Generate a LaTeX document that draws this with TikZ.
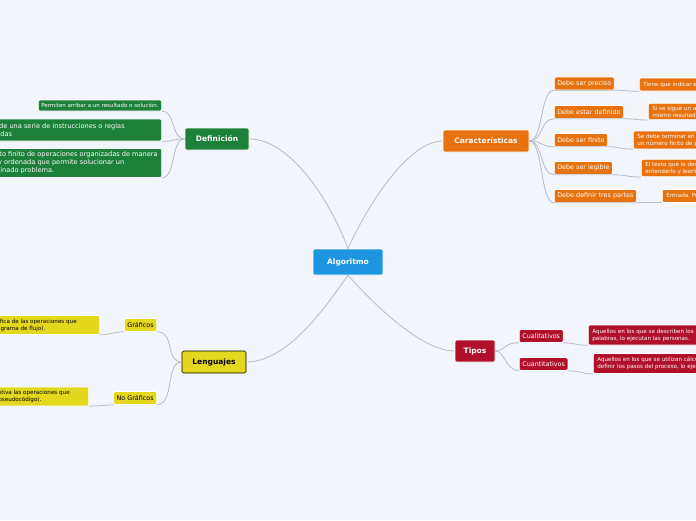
\documentclass[tikz,border=0pt]{standalone}
\usepackage{fontspec}
\setmainfont{DejaVu Sans}
\definecolor{bg}{HTML}{F2F5FC}
\definecolor{cblue}{HTML}{1E95E0}
\definecolor{cgreen}{HTML}{1C8039}
\definecolor{corange}{HTML}{E8720E}
\definecolor{cyellow}{HTML}{E4D81E}
\definecolor{cred}{HTML}{B0102A}
\definecolor{cline}{HTML}{B8BCC4}
\tikzset{
  base/.style={rounded corners=1.5pt, draw=white, line width=0.6pt, text=white, inner sep=2pt},
  root/.style={base, fill=cblue, minimum width=70, minimum height=26, font=\bfseries\fontsize{7.5}{9}\selectfont},
  mainb/.style={base, minimum height=22, font=\bfseries\fontsize{7.5}{9}\selectfont},
  lvtwo/.style={base, minimum height=13, inner xsep=3pt, font=\fontsize{6.4}{7.5}\selectfont},
  lvthree/.style={base, inner xsep=4pt, inner ysep=2.5pt, align=left, font=\fontsize{5.6}{7}\selectfont},
  conn/.style={draw=cline, line width=0.8pt},
}
\begin{document}
\begin{tikzpicture}[x=1pt,y=-1pt]
\fill[bg] (0,0) rectangle (696,520);
\useasboundingbox (0,0) rectangle (696,520);
\clip (0,0) rectangle (696,520);

\node[root] (alg) at (348,262) {Algoritmo};
\node[mainb, fill=cgreen, minimum width=64] (def) at (217,139) {Definición};
\node[mainb, fill=corange, minimum width=86] (car) at (486,141) {Características};
\node[mainb, fill=cyellow, draw=black, text=black, minimum width=64] (len) at (214,362) {Lenguajes};
\node[mainb, fill=cred, minimum width=40] (tip) at (475,351) {Tipos};

\draw[conn] (alg.north) .. controls (330,200) and (290,139) .. (def.east);
\draw[conn] (alg.north) .. controls (370,200) and (410,141) .. (car.west);
\draw[conn] (alg.south) .. controls (330,300) and (290,362) .. (len.east);
\draw[conn] (alg.south) .. controls (370,300) and (420,351) .. (tip.west);

% Definicion
\node[lvtwo, fill=cgreen, anchor=east, font=\fontsize{5.5}{6.5}\selectfont, minimum height=11] (d1) at (162,105.5) {Permiten arribar a un resultado o solución.};
\node[lvthree, fill=cgreen, anchor=east, font=\fontsize{6.6}{8}\selectfont, minimum height=22] (d2) at (162,130) {Se trata de una serie de instrucciones o reglas\hspace*{33pt}\\establecidas};
\node[lvthree, fill=cgreen, anchor=east, font=\fontsize{6.6}{8}\selectfont, minimum height=29] (d3) at (162,163) {Conjunto finito de operaciones organizadas de manera\\lógica y ordenada que permite solucionar un\\determinado problema.};
\foreach \n in {d1,d2,d3}
  \draw[conn] (def.west) .. controls +(-14,0) and +(14,0) .. (\n.south east);

% Caracteristicas
\node[lvtwo, fill=corange, anchor=west] (c1) at (554,83.5) {Debe ser preciso};
\node[lvtwo, fill=corange, anchor=west] (c2) at (554,112) {Debe estar definido};
\node[lvtwo, fill=corange, anchor=west] (c3) at (554,140) {Debe ser finito};
\node[lvtwo, fill=corange, anchor=west] (c4) at (554,168) {Debe ser legible};
\node[lvtwo, fill=corange, anchor=west] (c5) at (554,196) {Debe definir tres partes};
\foreach \n in {c1,c2,c3,c4,c5}
  \draw[conn] (car.east) .. controls +(14,0) and +(-14,0) .. (\n.south west) -- (\n.south east);

\node[lvthree, fill=corange, anchor=west, minimum height=13] (e1) at (639,84.5) {Tiene que indicar el orden de realización de cada paso.};
\node[lvthree, fill=corange, anchor=west] (e2) at (648,111.5) {Si se sigue un algoritmo dos veces, se debe obtener el\\mismo resultado cada vez.};
\node[lvthree, fill=corange, anchor=west] (e3) at (633,140) {Se debe terminar en algún momento; o sea, debe tener\\un número finito de pasos.};
\node[lvthree, fill=corange, anchor=west] (e4) at (641,168) {El texto que lo describe debe ser claro, de forma que permita\\entenderlo y leerlo fácilmente.};
\node[lvthree, fill=corange, anchor=west, minimum height=13] (e5) at (662,196) {Entrada, Proceso y Salida.};
\draw[conn] (c1.south east) .. controls +(15,0) and +(-15,0) .. (e1.south west);
\draw[conn] (c2.south east) .. controls +(15,0) and +(-15,0) .. (e2.south west);
\draw[conn] (c3.south east) .. controls +(15,0) and +(-15,0) .. (e3.south west);
\draw[conn] (c4.south east) .. controls +(15,0) and +(-15,0) .. (e4.south west);
\draw[conn] (c5.south east) .. controls +(15,0) and +(-15,0) .. (e5.south west);

% Lenguajes
\node[lvtwo, fill=cyellow, text=black, anchor=east] (l1) at (157,325) {Gráficos};
\node[lvtwo, fill=cyellow, text=black, anchor=east] (l2) at (157,398) {No Gráficos};
\draw[conn] (len.west) .. controls (165,362) and (175,331) .. (l1.south east);
\draw[conn] (len.west) .. controls (165,362) and (175,404) .. (l2.south east);
\node[lvthree, fill=cyellow, text=black, anchor=east, minimum height=19] (m1) at (100,325) {Es la representación gráfica de las operaciones que\hspace*{19pt}\\realiza un algoritmo (diagrama de flujo).};
\node[lvthree, fill=cyellow, text=black, anchor=east, minimum height=19] (m2) at (89,396.5) {Representa en forma descriptiva las operaciones que\hspace*{15pt}\\debe realizar un algoritmo (pseudocódigo).};
\draw[conn] (l1.south west) .. controls +(-12,0) and +(12,0) .. (m1.south east);
\draw[conn] (l2.south west) .. controls +(-12,0) and +(12,0) .. (m2.south east);

% Tipos
\node[lvtwo, fill=cred, anchor=west] (t1) at (519,336) {Cualitativos};
\node[lvtwo, fill=cred, anchor=west] (t2) at (519,364) {Cuantitativos};
\draw[conn] (tip.east) .. controls (505,351) and (505,342) .. (t1.south west);
\draw[conn] (tip.east) .. controls (505,351) and (505,370) .. (t2.south west);
\node[lvthree, fill=cred, anchor=west, minimum height=20] (u1) at (588,335) {Aquellos en los que se describen los pasos utilizando\\palabras, lo ejecutan las personas.};
\node[lvthree, fill=cred, anchor=west, minimum height=20] (u2) at (593,363.5) {Aquellos en los que se utilizan cálculos numéricos para\\definir los pasos del proceso, lo ejecutan las máquinas.};
\draw[conn] (t1.south east) .. controls +(12,0) and +(-12,0) .. (u1.south west);
\draw[conn] (t2.south east) .. controls +(12,0) and +(-12,0) .. (u2.south west);
\end{tikzpicture}
\end{document}
